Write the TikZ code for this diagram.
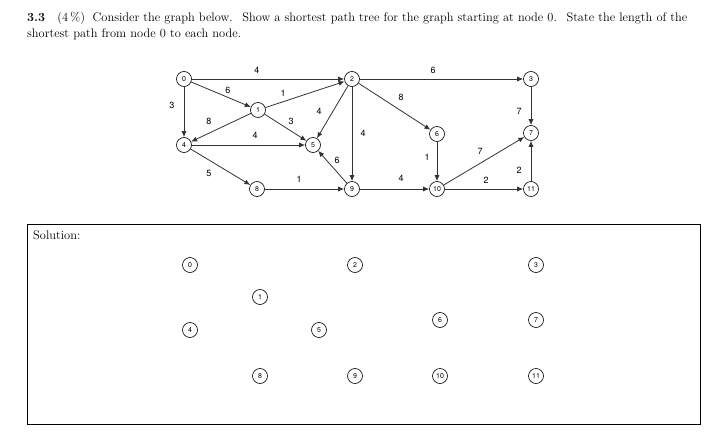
\documentclass[tikz,border=0pt]{standalone}
\usepackage{fontspec}
\newfontfamily\hv{TeX Gyre Heros}
\begin{document}
\begin{tikzpicture}[x=1pt,y=-1pt,
  vx/.style={circle,draw,line width=0.6pt,minimum size=15pt,inner sep=0pt,font=\hv\fontsize{7}{8}\selectfont},
  ed/.style={-{Latex[length=6pt,width=5pt]},line width=0.8pt,draw=black!80},
  wt/.style={font=\hv\fontsize{9}{10}\selectfont}]
\usetikzlibrary{arrows.meta}
\useasboundingbox (0,0) rectangle (718,436);
\node[anchor=north west,text width=665pt,align=left,inner sep=0pt,font=\fontsize{12.4}{16.5}\selectfont] (q) at (27,12)
 {\textbf{3.3}\quad(4\,\%)\; Consider the graph below.\; Show a shortest path tree for the graph starting at node 0.\; State the length of the shortest path from node 0 to each node.};
\foreach \n/\x/\y in {0/184/79,1/258/110,2/352/79,3/531/79,4/184/145,5/313/145,6/437/134,7/531/133,8/257/189,9/352/189,10/437/189,11/531/189}
  \node[vx] (n\n) at (\x,\y) {\n};
\foreach \a/\b in {0/2,2/3,0/1,1/2,0/4,1/4,1/5,2/5,2/9,2/6,3/7,4/5,4/8,9/5,6/10,10/7,8/9,9/10,10/11,11/7}
  \draw[ed] (n\a) -- (n\b);
\foreach \t/\x/\y in {4/257/70,6/433/70,6/228/90,1/283/93,3/172/105,8/209/121,3/291/121,4/319/111,4/363/133,8/401/97,7/519/111,4/255/135,5/209/173,6/337/160,1/427/157,7/480/151,1/299/179,4/401/178,2/486/180,2/519/170}
  \node[wt] at (\x,\y) {\t};
\node[draw,line width=0.6pt,minimum width=673pt,minimum height=200pt,anchor=north west,inner sep=0pt] (box) at (27,224) {};
\node[anchor=north west,inner sep=0pt,font=\fontsize{12.4}{14}\selectfont] (sol) at (33,231) {Solution:};
\foreach \n/\x/\y in {0/190/265,1/260/297,2/355/265,3/536/265,4/190/330,5/319/330,6/440/320,7/536/320,8/260/376,9/355/376,10/440/376,11/536/376}
  \node[vx] (s\n) at (\x,\y) {\n};
\end{tikzpicture}
\end{document}
